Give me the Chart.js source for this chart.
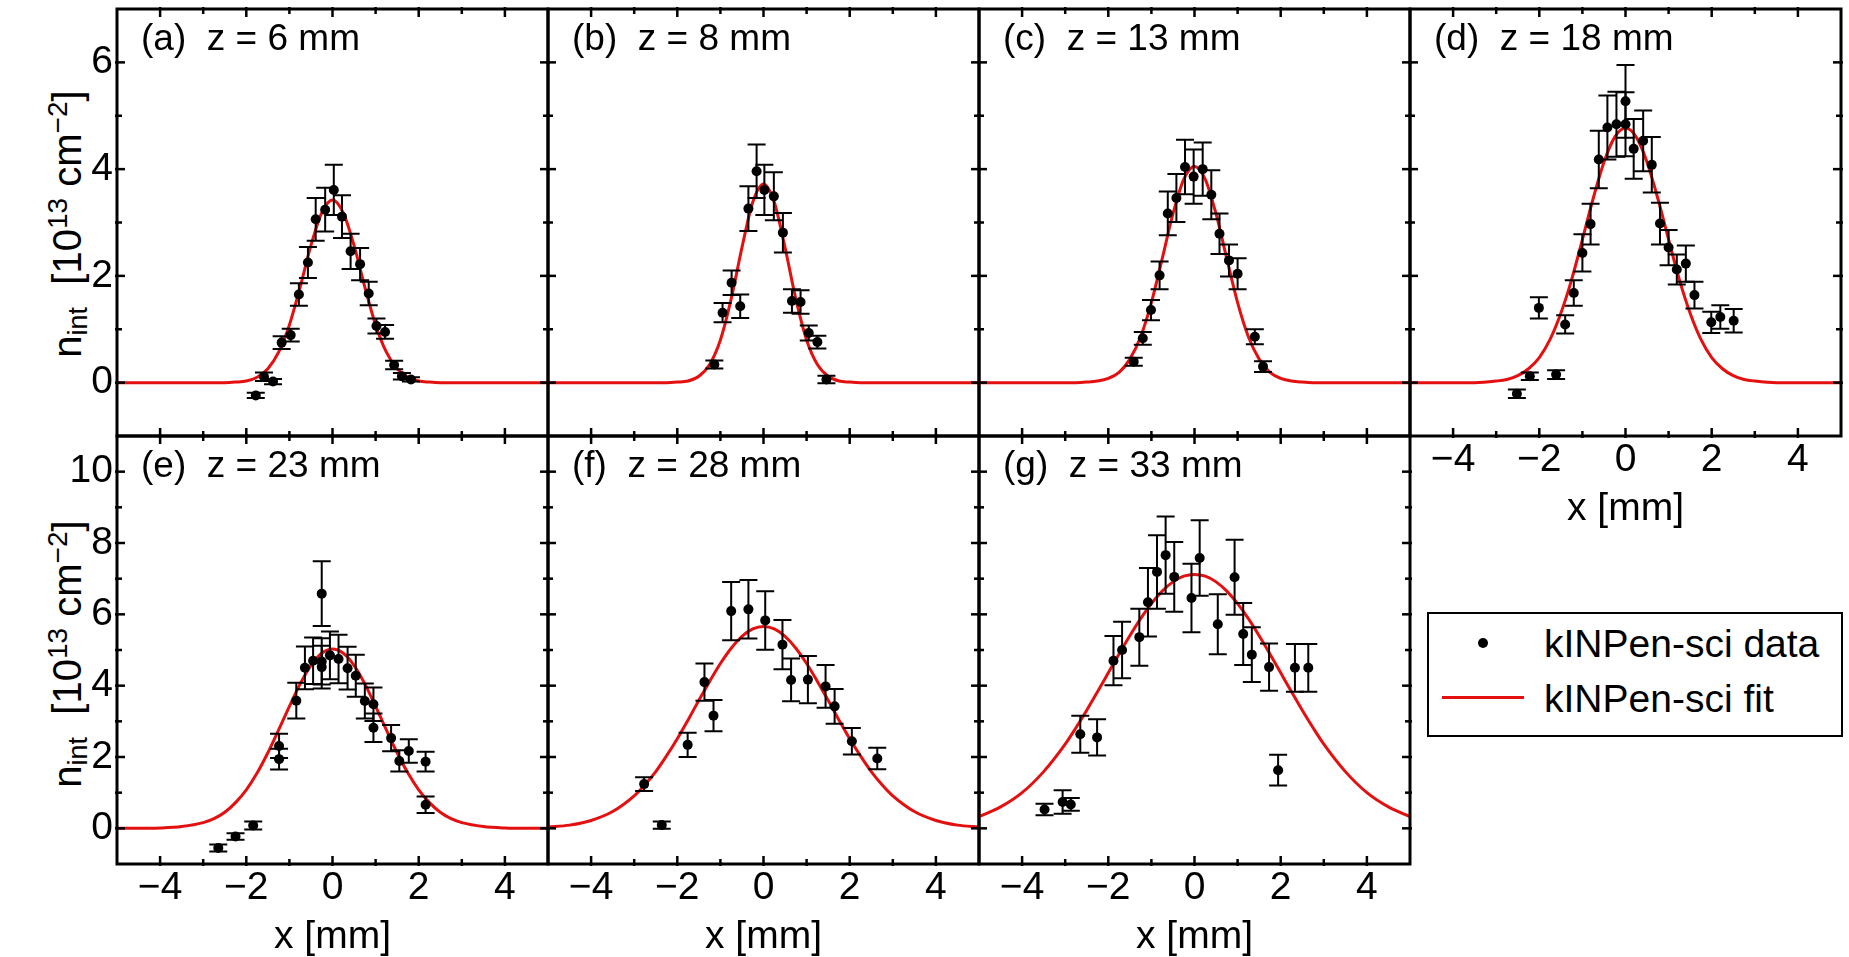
<!DOCTYPE html>
<html>
<head>
<meta charset="utf-8">
<title>kINPen-sci n_int profiles</title>
<script src="https://cdn.jsdelivr.net/npm/chart.js@4.4.1/dist/chart.umd.min.js"></script>
<style>
html, body { margin: 0; padding: 0; background: #fff; }
body { position: relative; width: 1849px; height: 957px; overflow: hidden; font-family: "Liberation Sans", Arial, sans-serif; color: #000; }
canvas { position: absolute; }
.plabel { position: absolute; font-size: 37px; line-height: 37px; white-space: pre; }
.ytitle { position: absolute; font-size: 40px; line-height: 40px; white-space: nowrap; transform: translate(-50%, -50%) rotate(-90deg); }
.ytitle sub { font-size: 27px; line-height: 0; vertical-align: -0.22em; }
.ytitle sup { font-size: 28px; line-height: 0; vertical-align: 0.5em; }
#legend { position: absolute; left: 1427px; top: 612px; width: 412px; height: 121px; border: 2px solid #000; }
#legend .dot { position: absolute; left: 49px; top: 24px; width: 10px; height: 10px; border-radius: 50%; background: #000; }
#legend .line { position: absolute; left: 13px; top: 82px; width: 82px; height: 3px; background: #e41010; }
#legend .txt { position: absolute; left: 115px; font-size: 39px; line-height: 39px; white-space: nowrap; }
</style>
</head>
<body>

<div class="ytitle" style="left:67px; top:224px">n<sub>int</sub>&nbsp; [10<sup>13</sup> cm<sup>−2</sup>]</div>
<div class="ytitle" style="left:67px; top:654px">n<sub>int</sub>&nbsp; [10<sup>13</sup> cm<sup>−2</sup>]</div>

<div id="legend">
  <div class="dot"></div>
  <div class="txt" style="top:10px">kINPen-sci data</div>
  <div class="line"></div>
  <div class="txt" style="top:65px">kINPen-sci fit</div>
</div>

<script>
// axis ticks
var xTickValues = [-4, -2, 0, 2, 4];
var xMinorValues = [-3, -1, 1, 3];
var yTicksTop = [0, 2, 4, 6];
var yMinorTop = [1, 3, 5];
var yTicksBottom = [0, 2, 4, 6, 8, 10];
var yMinorBottom = [1, 3, 5, 7, 9];

// x positions where the fit curves were read
var fitX = [-5, -4.5, -4, -3.5, -3, -2.75, -2.5, -2.25, -2, -1.75, -1.5, -1.25, -1, -0.75, -0.5, -0.25, 0,
            0.25, 0.5, 0.75, 1, 1.25, 1.5, 1.75, 2, 2.25, 2.5, 2.75, 3, 3.5, 4, 4.5, 5];

// (a) z = 6 mm
var xA = [-1.78, -1.59, -1.38, -1.18, -0.97, -0.78, -0.57, -0.39, -0.17, 0.03, 0.22, 0.42, 0.64, 0.84, 1.02, 1.22, 1.43, 1.61, 1.82];
var yA = [-0.24, 0.11, 0.02, 0.75, 0.89, 1.65, 2.25, 3.06, 3.24, 3.61, 3.11, 2.46, 2.22, 1.67, 1.06, 0.95, 0.33, 0.12, 0.06];
var eA = [0.05, 0.08, 0.05, 0.12, 0.12, 0.21, 0.29, 0.40, 0.41, 0.47, 0.40, 0.33, 0.30, 0.22, 0.14, 0.13, 0.08, 0.06, 0.04];
var fitA = [0, 0, 0, 0, 0, 0, 0, 0.01, 0.03, 0.10, 0.26, 0.57, 1.08, 1.79, 2.57, 3.18, 3.42,
            3.18, 2.57, 1.79, 1.08, 0.57, 0.26, 0.10, 0.03, 0.01, 0, 0, 0, 0, 0, 0, 0];

// (b) z = 8 mm
var xB = [-1.14, -0.95, -0.74, -0.54, -0.35, -0.16, 0.02, 0.24, 0.45, 0.66, 0.86, 1.05, 1.25, 1.46];
var yB = [0.34, 1.31, 1.87, 1.43, 3.26, 3.96, 3.61, 3.49, 2.81, 1.53, 1.51, 0.93, 0.76, 0.06];
var eB = [0.075, 0.18, 0.23, 0.22, 0.42, 0.50, 0.47, 0.45, 0.37, 0.22, 0.22, 0.14, 0.12, 0.07];
var fitB = [0, 0, 0, 0, 0, 0, 0, 0, 0.01, 0.03, 0.12, 0.34, 0.80, 1.57, 2.53, 3.38, 3.72,
            3.38, 2.53, 1.57, 0.80, 0.34, 0.12, 0.03, 0.01, 0, 0, 0, 0, 0, 0, 0, 0];

// (c) z = 13 mm
var xC = [-1.41, -1.20, -1.01, -0.81, -0.62, -0.42, -0.22, -0.02, 0.19, 0.39, 0.58, 0.80, 1.00, 1.40, 1.59];
var yC = [0.39, 0.83, 1.36, 2.01, 3.17, 3.46, 4.04, 3.86, 4.00, 3.52, 2.79, 2.29, 2.04, 0.86, 0.30];
var eC = [0.075, 0.12, 0.19, 0.26, 0.41, 0.45, 0.51, 0.51, 0.50, 0.46, 0.38, 0.30, 0.29, 0.14, 0.10];
var fitC = [0, 0, 0, 0, 0, 0, 0.01, 0.03, 0.08, 0.19, 0.44, 0.86, 1.50, 2.32, 3.16, 3.81, 4.05,
            3.81, 3.16, 2.32, 1.50, 0.86, 0.44, 0.19, 0.08, 0.03, 0.01, 0, 0, 0, 0, 0, 0];

// (d) z = 18 mm
var xD = [-2.52, -2.22, -2.01, -1.61, -1.40, -1.20, -1.00, -0.81, -0.62, -0.42, -0.21, 0.00, 0.00, 0.19, 0.41, 0.61, 0.80, 1.00, 1.19, 1.40, 1.60, 1.99, 2.20, 2.51];
var yD = [-0.21, 0.12, 1.40, 0.15, 1.09, 1.68, 2.43, 2.97, 4.18, 4.78, 4.84, 5.27, 4.84, 4.38, 4.53, 4.08, 2.98, 2.53, 2.12, 2.23, 1.64, 1.13, 1.23, 1.16];
var eD = [0.08, 0.07, 0.20, 0.08, 0.17, 0.24, 0.35, 0.38, 0.54, 0.60, 0.61, 0.68, 0.60, 0.56, 0.57, 0.52, 0.39, 0.33, 0.28, 0.34, 0.25, 0.20, 0.22, 0.22];
var fitD = [0, 0, 0, 0, 0.03, 0.06, 0.13, 0.26, 0.47, 0.81, 1.30, 1.93, 2.68, 3.45, 4.13, 4.60, 4.77,
            4.60, 4.13, 3.45, 2.68, 1.93, 1.30, 0.81, 0.47, 0.26, 0.13, 0.06, 0.03, 0, 0, 0, 0];

// (e) z = 23 mm
var xE = [-2.65, -2.25, -1.84, -1.24, -1.24, -0.84, -0.64, -0.45, -0.25, -0.25, -0.25, -0.06, 0.14, 0.35, 0.54, 0.75, 0.95, 0.95, 1.36, 1.55, 1.77, 2.16, 2.16];
var yE = [-0.55, -0.23, 0.08, 2.31, 1.94, 3.58, 4.50, 4.70, 6.58, 4.68, 4.52, 4.85, 4.75, 4.49, 4.28, 3.57, 3.48, 2.82, 2.53, 1.89, 2.17, 1.87, 0.66];
var eE = [0.10, 0.09, 0.11, 0.34, 0.29, 0.50, 0.60, 0.65, 0.91, 0.65, 0.60, 0.67, 0.68, 0.60, 0.59, 0.49, 0.47, 0.40, 0.37, 0.30, 0.33, 0.28, 0.23];
var fitE = [0, 0, 0.01, 0.05, 0.16, 0.27, 0.45, 0.72, 1.08, 1.55, 2.12, 2.76, 3.42, 4.05, 4.57, 4.91, 5.03,
            4.91, 4.57, 4.05, 3.42, 2.76, 2.12, 1.55, 1.08, 0.72, 0.45, 0.27, 0.16, 0.05, 0.01, 0, 0];

// (f) z = 28 mm
var xF = [-2.77, -2.36, -1.76, -1.37, -1.16, -0.75, -0.35, 0.04, 0.44, 0.64, 1.03, 1.44, 1.65, 2.05, 2.64];
var yF = [1.24, 0.09, 2.34, 4.10, 3.16, 6.09, 6.14, 5.83, 5.15, 4.16, 4.17, 3.98, 3.42, 2.44, 1.96];
var eF = [0.19, 0.10, 0.34, 0.52, 0.44, 0.82, 0.82, 0.82, 0.69, 0.60, 0.66, 0.60, 0.49, 0.37, 0.30];
var fitF = [0.04, 0.09, 0.22, 0.47, 0.91, 1.22, 1.59, 2.03, 2.51, 3.04, 3.59, 4.12, 4.62, 5.05, 5.38, 5.59, 5.66,
            5.59, 5.38, 5.05, 4.62, 4.12, 3.59, 3.04, 2.51, 2.03, 1.59, 1.22, 0.91, 0.47, 0.22, 0.09, 0.04];

// (g) z = 33 mm
var xG = [-3.48, -3.06, -2.87, -2.65, -2.26, -1.88, -1.68, -1.28, -1.08, -0.87, -0.67, -0.47, -0.07, 0.12, 0.54, 0.93, 1.13, 1.33, 1.73, 1.94, 2.33, 2.64];
var yG = [0.53, 0.74, 0.67, 2.64, 2.55, 4.70, 5.00, 5.36, 6.34, 7.19, 7.66, 7.05, 6.46, 7.58, 5.72, 7.04, 5.45, 4.87, 4.52, 1.63, 4.50, 4.50];
var eG = [0.16, 0.33, 0.18, 0.52, 0.51, 0.69, 0.79, 0.80, 0.96, 1.03, 1.08, 0.98, 0.96, 1.06, 0.84, 1.05, 0.87, 0.77, 0.66, 0.43, 0.67, 0.67];
var fitG = [0.33, 0.60, 1.00, 1.59, 2.36, 2.82, 3.31, 3.83, 4.36, 4.89, 5.40, 5.88, 6.30, 6.65, 6.91, 7.07, 7.12,
            7.07, 6.91, 6.65, 6.30, 5.88, 5.40, 4.89, 4.36, 3.83, 3.31, 2.82, 2.36, 1.59, 1.00, 0.60, 0.33];

// layout of the frames (page pixels)
var colEdges = [117, 548, 979, 1410, 1841];
var rowEdges = [9, 436, 864];
var FONT = '"Liberation Sans", Arial, sans-serif';
var RED = '#e41010';

var rowsCfg = [
    { min: -1, max: 7, ticks: yTicksTop, minor: yMinorTop },
    { min: -1, max: 11, ticks: yTicksBottom, minor: yMinorBottom }
];

var panels = [
    { label: '(a)  z = 6 mm',  col: 0, row: 0, xs: xA, ys: yA, errs: eA, fit: fitA, showX: false, showY: true },
    { label: '(b)  z = 8 mm',  col: 1, row: 0, xs: xB, ys: yB, errs: eB, fit: fitB, showX: false, showY: false },
    { label: '(c)  z = 13 mm', col: 2, row: 0, xs: xC, ys: yC, errs: eC, fit: fitC, showX: false, showY: false },
    { label: '(d)  z = 18 mm', col: 3, row: 0, xs: xD, ys: yD, errs: eD, fit: fitD, showX: true,  showY: false },
    { label: '(e)  z = 23 mm', col: 0, row: 1, xs: xE, ys: yE, errs: eE, fit: fitE, showX: true,  showY: true },
    { label: '(f)  z = 28 mm', col: 1, row: 1, xs: xF, ys: yF, errs: eF, fit: fitF, showX: true,  showY: false },
    { label: '(g)  z = 33 mm', col: 2, row: 1, xs: xG, ys: yG, errs: eG, fit: fitG, showX: true,  showY: false }
];

function fmt(v) {
    return v < 0 ? '\u2212' + Math.abs(v) : String(v);
}

// vertical error bars, drawn right after the fit line so the dots sit on top
var errorBarPlugin = {
    id: 'errorBars',
    afterDatasetDraw: function(chart, args) {
        if (args.index !== 1) return;
        var ds = chart.data.datasets[0];
        var ctx = chart.ctx, a = chart.chartArea;
        var xs = chart.scales.x, ys = chart.scales.y;
        ctx.save();
        ctx.beginPath();
        ctx.rect(a.left, a.top, a.right - a.left, a.bottom - a.top);
        ctx.clip();
        ctx.strokeStyle = '#000';
        ctx.lineWidth = 2;
        ds.data.forEach(function(pt, i) {
            var e = ds.yErr[i];
            var px = xs.getPixelForValue(pt.x);
            var top = ys.getPixelForValue(pt.y + e);
            var bot = ys.getPixelForValue(pt.y - e);
            ctx.beginPath();
            ctx.moveTo(px, top); ctx.lineTo(px, bot);
            ctx.moveTo(px - 9, top); ctx.lineTo(px + 9, top);
            ctx.moveTo(px - 9, bot); ctx.lineTo(px + 9, bot);
            ctx.stroke();
        });
        ctx.restore();
    }
};

// box frame with inward major/minor ticks on all four sides
var framePlugin = {
    id: 'frame',
    afterDatasetsDraw: function(chart) {
        var o = chart.options.plugins.frame;
        var ctx = chart.ctx, a = chart.chartArea;
        var xs = chart.scales.x, ys = chart.scales.y;
        ctx.save();
        ctx.strokeStyle = '#000';
        ctx.lineWidth = 2.5;
        function seg(x1, y1, x2, y2) {
            ctx.beginPath(); ctx.moveTo(x1, y1); ctx.lineTo(x2, y2); ctx.stroke();
        }
        function xt(v, len) {
            var p = xs.getPixelForValue(v);
            seg(p, a.bottom + 2, p, a.bottom - len);
            seg(p, a.top - 2, p, a.top + len);
        }
        function yt(v, len) {
            var p = ys.getPixelForValue(v);
            seg(a.left - 2, p, a.left + len, p);
            seg(a.right + 2, p, a.right - len, p);
        }
        xTickValues.forEach(function(v) { xt(v, 8); });
        xMinorValues.forEach(function(v) { xt(v, 5); });
        o.yMajor.forEach(function(v) { yt(v, 8); });
        o.yMinor.forEach(function(v) { yt(v, 5); });
        ctx.lineWidth = 3;
        ctx.strokeRect(a.left, a.top, a.right - a.left, a.bottom - a.top);
        ctx.restore();
    }
};

panels.forEach(function(p) {
    var L = colEdges[p.col], R = colEdges[p.col + 1];
    var T = rowEdges[p.row], B = rowEdges[p.row + 1];
    var rc = rowsCfg[p.row];

    var cv = document.createElement('canvas');
    cv.width = (R - L) + 90;
    cv.height = (B - T) + 120;
    cv.style.left = (L - 80) + 'px';
    cv.style.top = (T - 10) + 'px';
    document.body.appendChild(cv);

    var lab = document.createElement('div');
    lab.className = 'plabel';
    lab.textContent = p.label;
    lab.style.left = (L + 24) + 'px';
    lab.style.top = (T + 10) + 'px';
    document.body.appendChild(lab);

    var pts = p.xs.map(function(x, i) { return { x: x, y: p.ys[i] }; });
    var fitPts = fitX.map(function(x, i) { return { x: x, y: p.fit[i] }; });

    new Chart(cv, {
        type: 'scatter',
        data: {
            datasets: [
                {
                    label: 'kINPen-sci data',
                    data: pts,
                    yErr: p.errs,
                    pointRadius: 5,
                    pointBackgroundColor: '#000',
                    pointBorderWidth: 0,
                    order: 0
                },
                {
                    type: 'line',
                    label: 'kINPen-sci fit',
                    data: fitPts,
                    borderColor: RED,
                    borderWidth: 3,
                    pointRadius: 0,
                    fill: false,
                    cubicInterpolationMode: 'monotone',
                    order: 1
                }
            ]
        },
        options: {
            responsive: false,
            animation: false,
            events: [],
            layout: { padding: { left: 0, top: 10, right: 10, bottom: 0 } },
            plugins: {
                legend: { display: false },
                tooltip: { enabled: false },
                frame: { yMajor: rc.ticks, yMinor: rc.minor }
            },
            scales: {
                x: {
                    type: 'linear',
                    min: -5,
                    max: 5,
                    afterBuildTicks: function(s) { s.ticks = xTickValues.map(function(v) { return { value: v }; }); },
                    afterFit: function(s) { s.height = 110; s.paddingLeft = 0; s.paddingRight = 0; },
                    grid: { display: false, drawTicks: false },
                    border: { display: false },
                    ticks: {
                        display: p.showX,
                        autoSkip: false,
                        maxRotation: 0,
                        padding: 1,
                        color: '#000',
                        font: { family: FONT, size: 39 },
                        callback: fmt
                    },
                    title: {
                        display: p.showX,
                        text: 'x [mm]',
                        color: '#000',
                        font: { family: FONT, size: 39 },
                        padding: { top: 0, bottom: 13 }
                    }
                },
                y: {
                    type: 'linear',
                    min: rc.min,
                    max: rc.max,
                    afterBuildTicks: function(s) { s.ticks = rc.ticks.map(function(v) { return { value: v }; }); },
                    afterFit: function(s) { s.width = 80; s.paddingTop = 0; s.paddingBottom = 0; },
                    grid: { display: false, drawTicks: false },
                    border: { display: false },
                    ticks: {
                        display: p.showY,
                        autoSkip: false,
                        padding: 4,
                        color: '#000',
                        font: { family: FONT, size: 39 },
                        callback: fmt
                    }
                }
            }
        },
        plugins: [errorBarPlugin, framePlugin]
    });
});
</script>
</body>
</html>
